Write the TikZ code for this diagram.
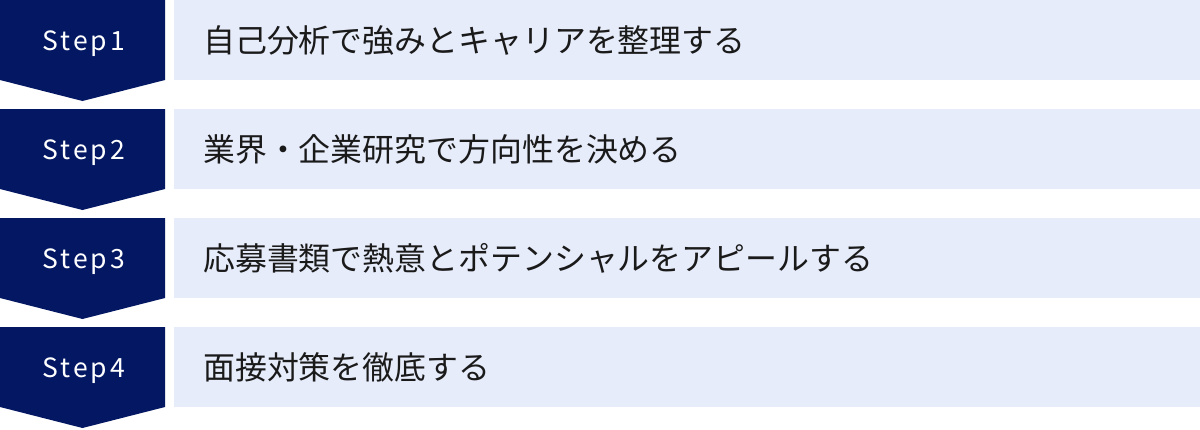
\documentclass[tikz,border=0pt]{standalone}
\usepackage{fontspec}
\newfontfamily\jp{Noto Sans CJK JP}
\newfontfamily\jpls[LetterSpace=11]{Noto Sans CJK JP}
\definecolor{navy}{RGB}{4,23,98}
\definecolor{pale}{RGB}{230,236,250}
\definecolor{ink}{RGB}{26,26,26}
\begin{document}
\begin{tikzpicture}[x=1pt,y=-1pt,
  stepshape/.style={fill=navy,draw=none},
  stepbox/.style={fill=pale,draw=none},
  steplabel/.style={text=white,font=\jpls\fontsize{26.5}{30}\selectfont,inner sep=0pt,anchor=base},
  desc/.style={text=ink,font=\jp\fontsize{31.9}{36}\selectfont,inner sep=0pt,anchor=west}]
\useasboundingbox (0,0) rectangle (1200,429);
\foreach \i/\t [count=\k from 0] in {1/自己分析で強みとキャリアを整理する,2/業界・企業研究で方向性を決める,3/応募書類で熱意とポテンシャルをアピールする,4/面接対策を徹底する}{
  \pgfmathsetmacro{\yy}{\k*109}
  \fill[stepshape] (0,\yy) -- (165,\yy) -- (165,\yy+80) -- (82.5,\yy+101) -- (0,\yy+80) -- cycle;
  \fill[stepbox] (174,\yy) rectangle (1200,\yy+80);
  \node[steplabel] (s\i) at (83.8,\yy+50.3) {Step\i};
  \node[desc] (d\i) at (203,\yy+40) {\t};
}
\end{tikzpicture}
\end{document}
